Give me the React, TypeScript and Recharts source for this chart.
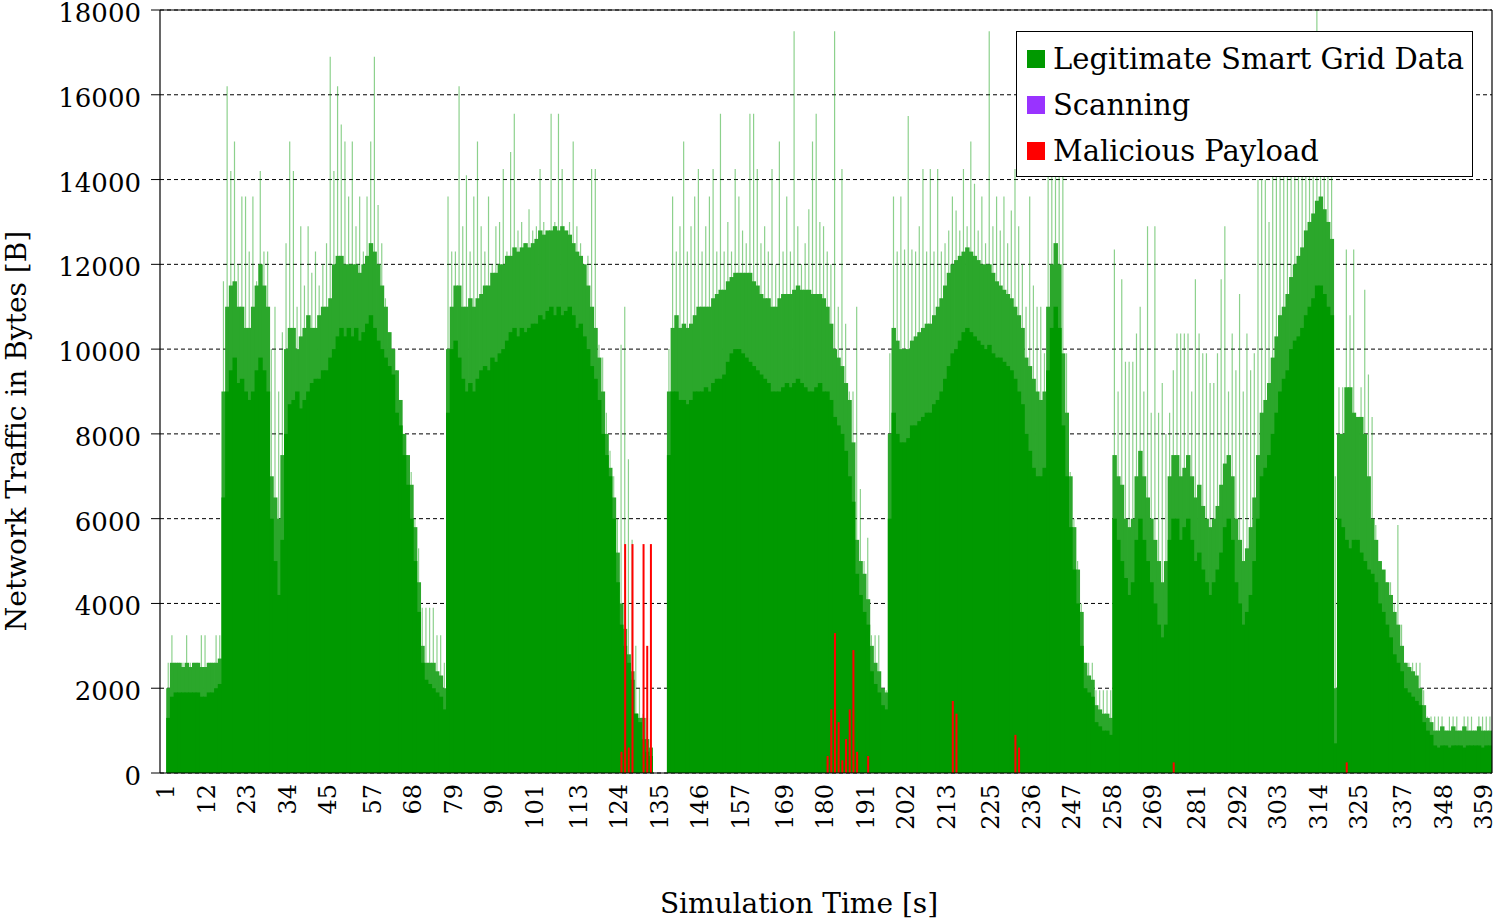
import { ComposedChart, Bar, XAxis, YAxis, CartesianGrid, ReferenceLine } from "recharts";

const serif = '"DejaVu Serif", "Liberation Serif", serif';
const GREEN = "#009900";
const GREEN_HAZE = "#2ba72b";
const PURPLE = "#9933ff";
const RED = "#ff0000";

// dense traffic level per second (bytes), t = 1..360
const legitBase = [
    1300, 1800, 1900, 1900, 1900, 1900, 1900, 1900, 1900, 1800,
    1800, 1900, 1900, 2000, 2100, 6500, 9000, 9500, 9800, 9200,
    9300, 9000, 8800, 9000, 9500, 9800, 9500, 9000, 6000, 5000,
    4200, 5500, 8000, 8700, 8800, 9000, 8600, 8800, 9000, 9200,
    9300, 9300, 9500, 9500, 9800, 10000, 10300, 10500, 10300, 10500,
    10300, 10500, 10200, 10400, 10600, 10800, 10500, 10200, 10000, 9800,
    9600, 9400, 8500, 8200, 7500, 6800, 6000, 5000, 3800, 2600,
    2200, 2100, 2000, 1900, 1800, 1500, 8500, 10000, 10200, 9800,
    9300, 9000, 9200, 9000, 9300, 9500, 9600, 9500, 9800, 9700,
    9900, 10000, 10200, 10400, 10500, 10300, 10500, 10400, 10500, 10600,
    10600, 10800, 10700, 10900, 11000, 10800, 11000, 10800, 10900, 11000,
    10800, 10500, 10600, 10300, 10000, 9600, 9300, 8800, 8000, 7500,
    7000, 6000, 4500, 3500, 3000, 2600, 2200, 1400, 1200, 800,
    500, 400, 0, 0, 0, 0, 7500, 9000, 9000, 8800,
    8800, 8700, 8800, 9000, 9000, 9000, 9100, 9000, 9200, 9300,
    9300, 9400, 9700, 9900, 10000, 10000, 9900, 9800, 9700, 9600,
    9500, 9400, 9300, 9200, 9000, 9000, 9000, 9100, 9200, 9100,
    9200, 9300, 9200, 9100, 9000, 9000, 9100, 9200, 9000, 9000,
    8800, 8400, 8200, 8000, 7600, 7000, 6400, 4700, 4200, 3800,
    3500, 2400, 2100, 1900, 1600, 1500, 6000, 8500, 8000, 7800,
    7800, 7900, 8200, 8200, 8300, 8400, 8500, 8500, 8700, 8800,
    9000, 9300, 9600, 9900, 10000, 10200, 10400, 10500, 10400, 10300,
    10200, 10100, 10000, 10100, 9900, 9800, 9800, 9700, 9600, 9500,
    9300, 9000, 8700, 8000, 7600, 7200, 7000, 7000, 7200, 9500,
    10500, 11000, 10500, 8200, 7000, 5800, 4800, 4000, 3000, 2000,
    1900, 1800, 1200, 1100, 1000, 1000, 900, 6000, 5500, 5000,
    4600, 4200, 4500, 5500, 6000, 5500, 5000, 4500, 4000, 3500,
    3200, 3500, 5500, 6000, 6000, 5500, 5800, 6000, 5500, 5000,
    5200, 4800, 4500, 4200, 4500, 4800, 5200, 5800, 6000, 5500,
    4500, 4000, 3500, 3800, 4200, 5000, 6000, 7000, 7200, 7500,
    8000, 8500, 9000, 9300, 9500, 10000, 10200, 10300, 10500, 10800,
    11000, 11200, 11500, 11500, 11300, 11000, 10800, 700, 6000, 5800,
    5500, 5300, 5500, 5500, 5200, 5000, 4800, 4700, 4500, 4000,
    3800, 3500, 3200, 2800, 2600, 2400, 2000, 1900, 1800, 1700,
    1600, 1200, 1000, 900, 650, 600, 650, 650, 600, 650,
    650, 650, 600, 650, 650, 650, 650, 600, 650, 650,
];

// top of the busy, half-filled band above the dense level (bytes)
const legitUpper = [
    2000, 2600, 2600, 2600, 2500, 2600, 2500, 2600, 2600, 2500,
    2500, 2600, 2600, 2600, 2700, 9000, 11000, 11500, 11600, 11000,
    11000, 10500, 10500, 11000, 11500, 12000, 11500, 11000, 7000, 6500,
    6000, 7500, 10000, 10500, 10500, 10000, 10300, 10500, 10800, 10500,
    10500, 10800, 11000, 11000, 11200, 12000, 12200, 12200, 12000, 12000,
    12000, 12000, 11800, 12000, 12200, 12500, 12300, 12000, 11500, 11000,
    10400, 10000, 9500, 8800, 8000, 7500, 6800, 5800, 4500, 3000,
    2600, 2600, 2600, 2400, 2300, 2000, 10000, 11000, 11500, 11500,
    11000, 11000, 11200, 11000, 11200, 11300, 11500, 11500, 11800, 11800,
    12000, 12000, 12200, 12200, 12400, 12300, 12400, 12500, 12400, 12500,
    12600, 12800, 12700, 12800, 12800, 12900, 12800, 12900, 12800, 12700,
    12500, 12300, 12200, 12000, 11500, 11000, 10500, 9800, 9000, 8000,
    7200, 6500, 5200, 4000, 3400, 2800, 2400, 1400, 1300, 1300,
    800, 600, 0, 0, 0, 0, 9000, 10500, 10800, 10500,
    10600, 10500, 10600, 10800, 11000, 11000, 11000, 11000, 11200, 11300,
    11400, 11400, 11600, 11700, 11800, 11800, 11800, 11800, 11800, 11600,
    11500, 11300, 11200, 11200, 11000, 11000, 11200, 11300, 11300, 11300,
    11400, 11500, 11400, 11400, 11400, 11300, 11300, 11300, 11200, 11000,
    10600, 10000, 9800, 9600, 9200, 8800, 7800, 5500, 5000, 4700,
    4100, 3000, 2600, 2400, 2000, 1900, 8000, 10500, 10200, 10000,
    10000, 10000, 10200, 10300, 10400, 10500, 10600, 10600, 10800, 11000,
    11200, 11500, 11800, 12000, 12100, 12200, 12300, 12400, 12300, 12200,
    12100, 12000, 12000, 12000, 11800, 11600, 11500, 11400, 11300, 11200,
    11000, 10800, 10500, 9800, 9600, 9300, 9000, 8800, 9000, 11000,
    12000, 12500, 12000, 9900, 8500, 7000, 5800, 4800, 3800, 2600,
    2300, 2200, 1600, 1500, 1400, 1400, 1300, 7500, 7000, 6800,
    6000, 5800, 6000, 7000, 7600, 7000, 6500, 6000, 5500, 5000,
    4500, 5000, 7000, 7500, 7500, 7000, 7200, 7500, 7000, 6500,
    6800, 6300, 6000, 5800, 6000, 6300, 6800, 7300, 7500, 7000,
    6000, 5500, 5000, 5300, 5800, 6500, 7500, 8500, 8800, 9200,
    9800, 10300, 10800, 11000, 11300, 11700, 12000, 12200, 12400, 12800,
    13000, 13200, 13500, 13600, 13300, 13000, 12600, 2000, 8000, 8000,
    9100, 9100, 8500, 8400, 8400, 8000, 7000, 6000, 5500, 5000,
    4800, 4500, 4200, 3800, 3500, 3000, 2600, 2500, 2400, 2300,
    2000, 1600, 1300, 1200, 1000, 1000, 1100, 1000, 1000, 1100,
    1000, 1000, 1100, 1000, 1000, 1000, 1100, 1000, 1000, 1000,
];

// tallest packet burst per second (bytes)
const legitPeak = [
    2600, 3250, 2600, 2600, 2600, 3250, 2600, 2600, 2600, 3250,
    3250, 2600, 2600, 3250, 3250, 11600, 16200, 14200, 14900, 12000,
    13600, 13600, 12300, 13600, 11600, 14200, 12300, 12300, 10000, 11000,
    9000, 10400, 12500, 14900, 14200, 11000, 12900, 11500, 12900, 11800,
    12300, 11500, 12000, 12500, 16900, 14200, 16200, 15300, 14900, 13600,
    14900, 12900, 13600, 12300, 13600, 14900, 16900, 13400, 12500, 11200,
    10400, 10000, 9500, 8500, 7800, 7500, 7100, 6000, 5300, 3900,
    3900, 3900, 3900, 3250, 3250, 2600, 13600, 12300, 12300, 16200,
    12900, 14100, 12300, 13600, 14900, 12900, 12300, 13600, 12000, 12900,
    13000, 14250, 12300, 14650, 15550, 12800, 13000, 12500, 13300, 12800,
    12900, 14250, 13000, 12500, 15550, 13000, 15550, 14250, 12600, 13000,
    14900, 12900, 12500, 12000, 12200, 14250, 14250, 10100, 9800, 8500,
    7600, 7000, 6000, 10100, 11000, 7400, 5500, 3000, 2000, 1400,
    1300, 1300, 0, 0, 0, 0, 10000, 13600, 12300, 12900,
    14900, 12300, 12900, 13600, 14250, 12300, 12900, 13600, 14250, 12300,
    15550, 12300, 13000, 12300, 14250, 13600, 12800, 12500, 15550, 15550,
    14250, 12500, 12900, 12300, 14250, 12000, 14900, 12300, 13600, 12300,
    17500, 12900, 12000, 12500, 13300, 14900, 15550, 13000, 12900, 12300,
    12000, 17500, 11000, 14250, 10600, 9000, 9000, 11000, 6700, 5000,
    5550, 3250, 3250, 3250, 1950, 1950, 9900, 13600, 12300, 13600,
    12350, 15500, 12350, 12300, 12900, 14250, 12300, 14250, 12300, 14250,
    12300, 12500, 12800, 13600, 13270, 12800, 14250, 12900, 14900, 13900,
    12800, 13600, 12500, 17500, 12900, 13600, 12800, 13600, 12500, 13270,
    14250, 12900, 12000, 11000, 13600, 11500, 11000, 11000, 9900, 14500,
    15000, 15000, 15000, 14500, 9900, 7100, 6000, 5000, 4000, 2600,
    2600, 2600, 1950, 1950, 1950, 1950, 1950, 12350, 9000, 11650,
    9700, 9700, 9700, 10370, 11000, 9000, 12900, 8500, 12900, 8500,
    9200, 8000, 8500, 9500, 10370, 10370, 10370, 10370, 9000, 11650,
    10370, 9900, 9900, 9200, 9200, 9900, 11650, 12900, 9000, 10370,
    9500, 11300, 9000, 10370, 9500, 9900, 14000, 14000, 14000, 13000,
    14200, 14500, 14100, 14500, 15000, 14500, 15000, 15500, 14500, 15000,
    15500, 14500, 18000, 15000, 14500, 15000, 14500, 7000, 9100, 9100,
    12350, 10800, 12350, 8400, 9100, 11400, 9400, 8400, 5850, 5000,
    4500, 4500, 4500, 4000, 5850, 3500, 2600, 2600, 2600, 2600,
    2600, 1950, 1330, 1330, 1330, 1330, 1330, 1000, 1330, 1330,
    1330, 1000, 1330, 1330, 1330, 1000, 1330, 1330, 1330, 1330,
];

// [second, bytes]
const maliciousPoints: [number, number][] = [
    [124, 500], [125, 5400], [126, 600], [127, 5400], [130, 5400], [131, 3000], [132, 5400],
    [180, 400], [181, 1500], [182, 3300], [183, 1200], [184, 300], [185, 800], [186, 1500],
    [187, 2900], [188, 500], [191, 400],
    [214, 1700], [215, 1400], [231, 900], [232, 600], [274, 250], [321, 250],
];
const scanningPoints: [number, number][] = [];

const timeTicks = [1, 12, 23, 34, 45, 57, 68, 79, 90, 101, 113, 124, 135, 146, 157, 169, 180, 191, 202, 213, 225, 236, 247, 258, 269, 281, 292, 303, 314, 325, 337, 348, 359];
const byteTicks = [0, 2000, 4000, 6000, 8000, 10000, 12000, 14000, 16000, 18000];

const legendItems = [
    { name: "Legitimate Smart Grid Data", color: GREEN },
    { name: "Scanning", color: PURPLE },
    { name: "Malicious Payload", color: RED },
];

const malMap = new Map(maliciousPoints);
const scanMap = new Map(scanningPoints);
const rows = legitBase.map((base, i) => ({
    t: i + 1,
    base,
    upper: legitUpper[i],
    peak: legitPeak[i],
    malicious: malMap.get(i + 1) ?? 0,
    scanning: scanMap.get(i + 1) ?? 0,
}));

const X_DOMAIN: [number, number] = [-1.3, 360.5];

// widen each block a hair so neighbouring seconds merge without seams
const SolidBar = (props: any) => {
    const { x, y, width, height, fill } = props;
    if (!height || height <= 0) return null;
    return <rect x={x - 0.4} y={y} width={width + 0.8} height={height} fill={fill} />;
};

const TimeTick = ({ x, y, payload }: any) => (
    <text
        x={x - 2}
        y={y}
        transform={`rotate(-90 ${x - 2} ${y})`}
        textAnchor="end"
        dominantBaseline="central"
        fontFamily={serif}
        fontSize={24}
        fill="#000"
    >
        {payload.value}
    </text>
);

const ByteTick = ({ x, y, payload }: any) => (
    <text x={x} y={y + 3} textAnchor="end" dominantBaseline="central" fontFamily={serif} fontSize={26} fill="#000">
        {payload.value}
    </text>
);

function Legend() {
    return (
        <div
            style={{
                position: "absolute",
                left: 1016,
                top: 31,
                width: 457,
                height: 146,
                boxSizing: "border-box",
                border: "1.5px solid #000",
                background: "#fff",
                paddingTop: 4,
                paddingLeft: 10,
                fontFamily: serif,
                fontSize: 29,
            }}
        >
            {legendItems.map((item) => (
                <div key={item.name} style={{ display: "flex", alignItems: "center", height: 46 }}>
                    <span style={{ width: 18, height: 18, background: item.color, marginRight: 8 }} />
                    <span style={{ lineHeight: "46px" }}>{item.name}</span>
                </div>
            ))}
        </div>
    );
}

export default function App() {
    return (
        <div style={{ position: "absolute", left: 0, top: 0, width: 1498, height: 920, background: "#fff" }}>
            <ComposedChart
                width={1498}
                height={920}
                data={rows}
                margin={{ top: 10, right: 6, bottom: 0, left: 0 }}
            >
                <CartesianGrid
                    xAxisId="time"
                    vertical={false}
                    stroke="#000"
                    strokeDasharray="4 3"
                    strokeWidth={1}
                />
                <XAxis
                    xAxisId="time"
                    dataKey="t"
                    type="number"
                    domain={X_DOMAIN}
                    allowDataOverflow
                    ticks={timeTicks}
                    interval={0}
                    height={147}
                    tickLine={false}
                    tickSize={0}
                    tickMargin={11}
                    axisLine={{ stroke: "#000", strokeWidth: 1.2 }}
                    tick={<TimeTick />}
                    label={{
                        content: () => (
                            <text x={799} y={903} textAnchor="middle" dominantBaseline="central" fontFamily={serif} fontSize={28} fill="#000">
                                Simulation Time [s]
                            </text>
                        ),
                    }}
                />
                <XAxis xAxisId="peakX" dataKey="t" type="number" domain={X_DOMAIN} allowDataOverflow hide height={0} />
                <XAxis xAxisId="upperX" dataKey="t" type="number" domain={X_DOMAIN} allowDataOverflow hide height={0} />
                <XAxis xAxisId="malX" dataKey="t" type="number" domain={X_DOMAIN} allowDataOverflow hide height={0} />
                <XAxis xAxisId="scanX" dataKey="t" type="number" domain={X_DOMAIN} allowDataOverflow hide height={0} />
                <YAxis
                    domain={[0, 18000]}
                    allowDataOverflow
                    ticks={byteTicks}
                    interval={0}
                    width={160}
                    tickSize={9}
                    tickMargin={10}
                    tickLine={{ stroke: "#000" }}
                    axisLine={{ stroke: "#000", strokeWidth: 1.2 }}
                    tick={<ByteTick />}
                    label={{
                        content: () => (
                            <text x={16} y={431} transform="rotate(-90 16 431)" textAnchor="middle" dominantBaseline="central" fontFamily={serif} fontSize={28} fill="#000">
                                Network Traffic in Bytes [B]
                            </text>
                        ),
                    }}
                />
                <Bar xAxisId="peakX" dataKey="peak" barSize={1.2} fill={GREEN} fillOpacity={0.45} isAnimationActive={false} />
                <Bar xAxisId="upperX" dataKey="upper" barSize={3.66} fill={GREEN_HAZE} shape={<SolidBar />} isAnimationActive={false} />
                <Bar xAxisId="time" dataKey="base" barSize={3.66} fill={GREEN} shape={<SolidBar />} isAnimationActive={false} />
                <Bar xAxisId="scanX" dataKey="scanning" barSize={2} fill={PURPLE} isAnimationActive={false} />
                <Bar xAxisId="malX" dataKey="malicious" barSize={2} fill={RED} isAnimationActive={false} />
                <ReferenceLine xAxisId="time" y={18000} stroke="#000" strokeWidth={1.2} />
                <ReferenceLine xAxisId="time" x={X_DOMAIN[1]} stroke="#000" strokeWidth={1.2} />
            </ComposedChart>
            <Legend />
        </div>
    );
}
